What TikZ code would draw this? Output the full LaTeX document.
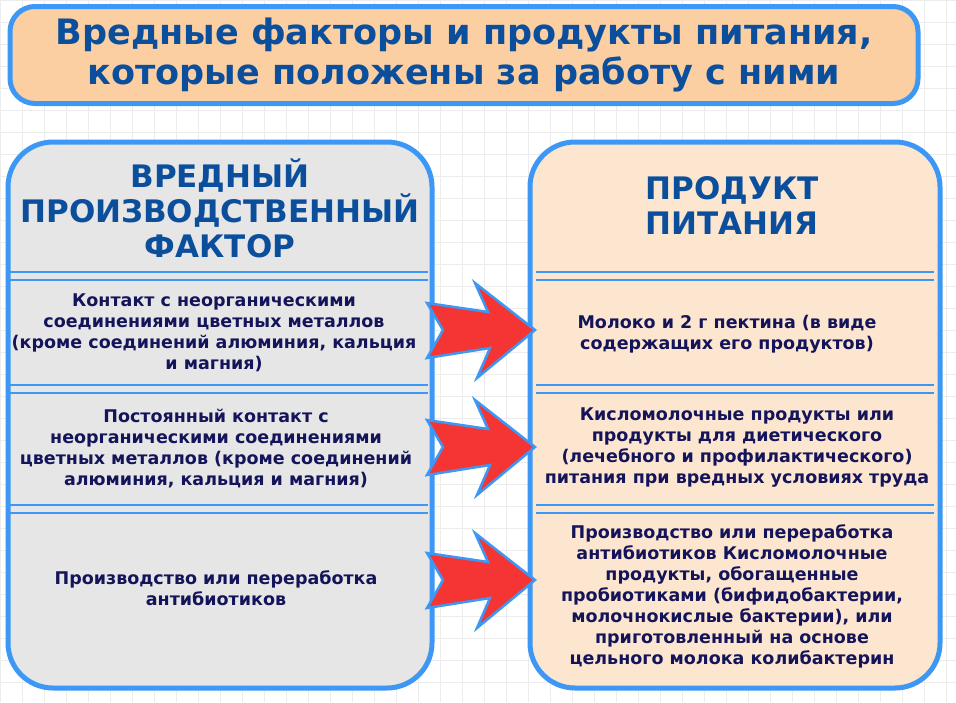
\documentclass[tikz,border=0pt]{standalone}
\usepackage{fontspec}
\setmainfont{DejaVu Sans}
\definecolor{bord}{HTML}{3D98F5}
\definecolor{ttl}{HTML}{0B4F9C}
\definecolor{txt}{HTML}{14145A}
\definecolor{tfill}{HTML}{FCCFA2}
\definecolor{lfill}{HTML}{E6E6E6}
\definecolor{rfill}{HTML}{FDE6D0}
\definecolor{arr}{HTML}{F53434}
\definecolor{grid}{HTML}{ECECEC}
\begin{document}
\begin{tikzpicture}[x=1pt,y=-1pt,
  panel/.style={draw=bord,line width=5pt,rounded corners=45pt},
  sep/.style={draw=bord,line width=2pt},
  body/.style={text=txt,font=\bfseries\fontsize{17.5}{21}\selectfont,align=center},
  head/.style={text=ttl,font=\bfseries\fontsize{31}{35}\selectfont,align=center}]
\useasboundingbox (0,0) rectangle (956,702);
\fill[white] (0,0) rectangle (956,702);
\draw[grid,line width=0.6pt,step=22pt] (0,0) grid (956,702);
% title
\node[draw=bord,line width=5pt,rounded corners=25pt,fill=tfill,minimum width=908pt,minimum height=97pt,
  text=ttl,font=\bfseries\fontsize{35}{40}\selectfont,align=center] (title) at (464,55)
  {Вредные факторы и продукты питания,\\которые положены за работу с ними};
% panels
\filldraw[panel,fill=lfill] (8,142) rectangle (432,688);
\filldraw[panel,fill=rfill] (530,142) rectangle (940,688);
\foreach \y in {272,385,505}{
  \draw[sep] (10,\y) -- (428,\y); \draw[sep] (10,\y+8) -- (428,\y+8);
  \draw[sep] (536,\y) -- (934,\y); \draw[sep] (536,\y+8) -- (934,\y+8);}
\node[head] (lh) at (220,208) {ВРЕДНЫЙ\\ПРОИЗВОДСТВЕННЫЙ\\ФАКТОР};
\node[head] (rh) at (732,205) {ПРОДУКТ\\ПИТАНИЯ};
\node[body] (l1) at (214,333) {Контакт с неорганическими\\соединениями цветных металлов\\(кроме соединений алюминия, кальция\\и магния)};
\node[body] (l2) at (216,449) {Постоянный контакт с\\неорганическими соединениями\\цветных металлов (кроме соединений\\алюминия, кальция и магния)};
\node[body] (l3) at (216,588) {Производство или переработка\\антибиотиков};
\node[body] (r1) at (727,334) {Молоко и 2 г пектина (в виде\\содержащих его продуктов)};
\node[body] (r2) at (737,448) {Кисломолочные продукты или\\продукты для диетического\\(лечебного и профилактического)\\питания при вредных условиях труда};
\node[body] (r3) at (732,596) {Производство или переработка\\антибиотиков Кисломолочные\\продукты, обогащенные\\пробиотиками (бифидобактерии,\\молочнокислые бактерии), или\\приготовленный на основе\\цельного молока колибактерин};
% arrows
\foreach \c in {330,447,580}{
  \filldraw[fill=arr,draw=bord,line width=2.5pt,line join=miter]
   (427,\c-27) -- (488,\c-18) -- (475,\c-47) -- (535,\c) -- (477,\c+48) -- (490,\c+18) -- (427,\c+28) -- (443,\c) -- cycle;}
\end{tikzpicture}
\end{document}
